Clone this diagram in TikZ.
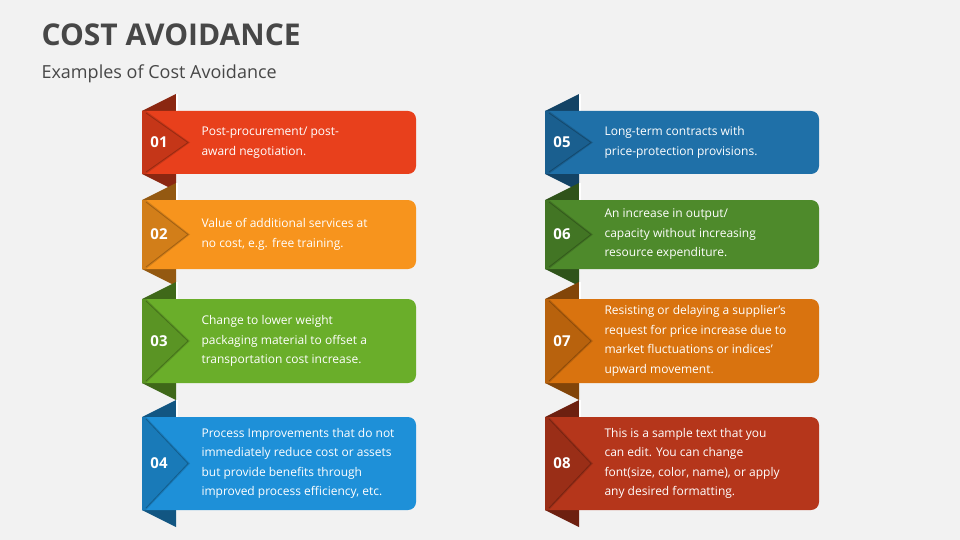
\documentclass[tikz,border=0pt]{standalone}
\usepackage{fontspec}
\setmainfont{Open Sans}
\begin{document}
\begin{tikzpicture}[x=1pt,y=-1pt,
  txt/.style={anchor=west,align=left,text=white,font=\fontsize{12}{19.5}\selectfont},
  num/.style={text=white,font=\bfseries\fontsize{15}{18}\selectfont}]
\definecolor{bg}{HTML}{F2F2F2}
\fill[bg] (0,0) rectangle (960,540);
\useasboundingbox (0,0) rectangle (960,540);
\node[anchor=west,font=\bfseries\fontsize{30}{34}\selectfont,text=black!72] (title) at (38,35) {COST AVOIDANCE};
\node[anchor=west,font=\fontsize{18}{22}\selectfont,text=black!72] (sub) at (38,74) {Examples of Cost Avoidance};
\def\card#1#2#3#4#5#6{% x, ytop, ybot, color, num, text
  \pgfmathsetmacro\ym{(#2+#3)/2}
  \fill[#4!60!black] (#1,#2) -- (#1+34,#2) -- (#1+34,#2-17) -- cycle;
  \fill[#4!60!black] (#1,#3) -- (#1+34,#3) -- (#1+34,#3+17) -- cycle;
  \fill[white] (#1+34,#2-17) rectangle (#1+36,#2);
  \fill[#4, rounded corners=8pt] (#1+20,#2) -- (#1+274,#2) -- (#1+274,#3) -- (#1+20,#3) [sharp corners] -- (#1,#3) -- (#1,#2) -- cycle;
  \fill[#4!85!black] (#1,#2) -- (#1+4,#2) -- (#1+48,\ym) -- (#1+4,#3) -- (#1,#3) -- cycle;
  \draw[#4!65!black,line width=0.8pt] (#1+4,#2+2) -- (#1+46,\ym) -- (#1+4,#3-2);
  \node[num] (n#5) at (#1+17,\ym) {#5};
  \node[txt] (t#5) at (#1+56,\ym) {#6};
}
\definecolor{c1}{HTML}{E8401C}\definecolor{c2}{HTML}{F7941D}
\definecolor{c3}{HTML}{6AAE2A}\definecolor{c4}{HTML}{1E90D8}
\definecolor{c5}{HTML}{1F70A8}\definecolor{c6}{HTML}{4E8A2B}
\definecolor{c7}{HTML}{D9730F}\definecolor{c8}{HTML}{B5361B}
\card{142}{111}{174}{c1}{01}{Post-procurement/ post-\\award negotiation.}
\card{142}{200}{269}{c2}{02}{Value of additional services at\\no cost, e.g. free training.}
\card{142}{299}{383}{c3}{03}{Change to lower weight\\packaging material to offset a\\transportation cost increase.}
\card{142}{417}{510}{c4}{04}{Process Improvements that do not\\immediately reduce cost or assets\\but provide benefits through\\improved process efficiency, etc.}
\card{545}{111}{174}{c5}{05}{Long-term contracts with\\price-protection provisions.}
\card{545}{200}{269}{c6}{06}{An increase in output/\\capacity without increasing\\resource expenditure.}
\card{545}{299}{383}{c7}{07}{Resisting or delaying a supplier's\\request for price increase due to\\market fluctuations or indices'\\upward movement.}
\card{545}{417}{510}{c8}{08}{This is a sample text that you\\can edit. You can change\\font(size, color, name), or apply\\any desired formatting.}
\end{tikzpicture}
\end{document}
